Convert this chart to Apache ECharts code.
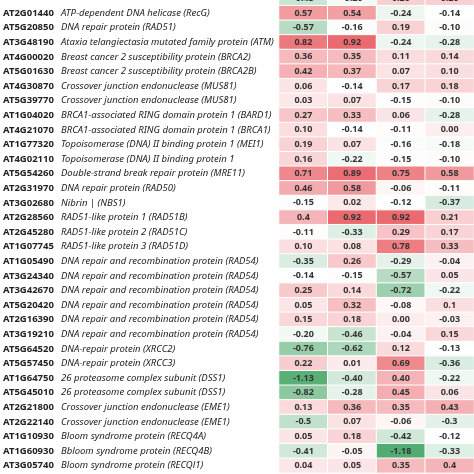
<!DOCTYPE html><html><head><meta charset="utf-8"><script src="https://cdn.jsdelivr.net/npm/echarts@6/dist/echarts.min.js"></script>
<style>html,body{margin:0;padding:0;background:#fff;overflow:hidden}#w{width:474px;height:474px;overflow:hidden;position:relative}#c{width:474px;height:483px;position:absolute;top:-9px;left:0}</style></head><body><div id="w"><div id="c"></div></div><script>
const geneIds=["","AT2G01440","AT5G20850","AT3G48190","AT4G00020","AT5G01630","AT4G30870","AT5G39770","AT1G04020","AT4G21070","AT1G77320","AT4G02110","AT5G54260","AT2G31970","AT3G02680","AT2G28560","AT2G45280","AT1G07745","AT1G05490","AT3G24340","AT3G42670","AT5G20420","AT2G16390","AT3G19210","AT5G64520","AT5G57450","AT1G64750","AT5G45010","AT2G21800","AT2G22140","AT1G10930","AT1G60930","AT3G05740"];
const geneNames=["","ATP-dependent DNA helicase (RecG)","DNA repair protein (RAD51)","Ataxia telangiectasia mutated family protein (ATM)","Breast cancer 2 susceptibility protein (BRCA2)","Breast cancer 2 susceptibility protein (BRCA2B)","Crossover junction endonuclease (MUS81)","Crossover junction endonuclease (MUS81)","BRCA1-associated RING domain protein 1 (BARD1)","BRCA1-associated RING domain protein 1 (BRCA1)","Topoisomerase (DNA) II binding protein 1 (MEI1)","Topoisomerase (DNA) II binding protein 1","Double-strand break repair protein (MRE11)","DNA repair protein (RAD50)","Nibrin | (NBS1)","RAD51-like protein 1 (RAD51B)","RAD51-like protein 2 (RAD51C)","RAD51-like protein 3 (RAD51D)","DNA repair and recombination protein (RAD54)","DNA repair and recombination protein (RAD54)","DNA repair and recombination protein (RAD54)","DNA repair and recombination protein (RAD54)","DNA repair and recombination protein (RAD54)","DNA repair and recombination protein (RAD54)","DNA-repair protein (XRCC2)","DNA-repair protein (XRCC3)","26 proteasome complex subunit (DSS1)","26 proteasome complex subunit (DSS1)","Crossover junction endonuclease (EME1)","Crossover junction endonuclease (EME1)","Bloom syndrome protein (RECQ4A)","Bbloom syndrome protein (RECQ4B)","Bloom syndrome protein (RECQl1)"];
const col1=["-0.45","0.57","-0.57","0.82","0.36","0.42","0.06","0.03","0.27","0.10","0.19","0.16","0.71","0.46","-0.15","0.4","-0.11","0.10","-0.35","-0.14","0.25","0.05","0.15","-0.20","-0.76","0.22","-1.13","-0.82","0.13","-0.5","0.05","-0.41","0.04"];
const col2=["-0.20","0.54","-0.16","0.92","0.35","0.37","-0.14","0.07","0.33","-0.14","0.07","-0.22","0.89","0.58","0.02","0.92","-0.33","0.08","0.26","-0.15","0.14","0.32","0.18","-0.46","-0.62","0.01","-0.40","-0.28","0.36","0.07","0.18","-0.05","0.05"];
const col3=["0.20","-0.24","0.19","-0.24","0.11","0.07","0.17","-0.15","0.06","-0.11","-0.16","-0.15","0.75","-0.06","-0.12","0.92","0.29","0.78","-0.29","-0.57","-0.72","-0.08","0.00","-0.04","0.12","0.69","0.40","0.45","0.35","-0.06","-0.42","-1.18","0.35"];
const col4=["0.20","-0.14","-0.10","-0.28","0.14","0.10","0.18","-0.10","-0.28","0.00","-0.18","-0.10","0.58","-0.11","-0.37","0.21","0.17","0.33","-0.04","0.05","-0.22","0.1","-0.03","0.15","-0.13","-0.36","-0.22","0.06","0.43","-0.3","-0.12","-0.33","0.4"];
const cols=[col1,col2,col3,col4];
const data=[];
cols.forEach((c,x)=>c.forEach((v,y)=>data.push([x,y,parseFloat(v),v])));
const rowH=14.6, n=geneIds.length;
const chart=echarts.init(document.getElementById('c'));
chart.setOption({
 animation:false,
 grid:{left:278,right:-3,top:22-rowH*1.5,height:rowH*n},
 xAxis:{type:'category',data:['1','2','3','4'],show:false},
 yAxis:{type:'category',data:geneIds.map((g,i)=>i),inverse:true,axisLine:{show:false},axisTick:{show:false},
  axisLabel:{interval:0,align:'left',margin:276,formatter:(v)=>{const i=+v;return '{a|'+geneIds[i]+'}{b|'+geneNames[i]+'}';},
   rich:{a:{fontFamily:'Noto Sans',fontWeight:'bold',fontSize:9.5,color:'#222',width:58},b:{fontFamily:'Noto Sans',fontStyle:'italic',fontSize:9.5,color:'#222'}}}},
 visualMap:{show:false,min:-1.18,max:0.92,dimension:2,inRange:{color:['#52ab70','#ffffff','#eb6a70']}},
 series:[{type:'heatmap',data:data,itemStyle:{borderColor:'#fff',borderWidth:1},
  label:{show:true,formatter:p=>p.data[3],fontFamily:'Noto Sans',fontWeight:'bold',fontSize:9,color:'#333'}}]
});
</script></body></html>
